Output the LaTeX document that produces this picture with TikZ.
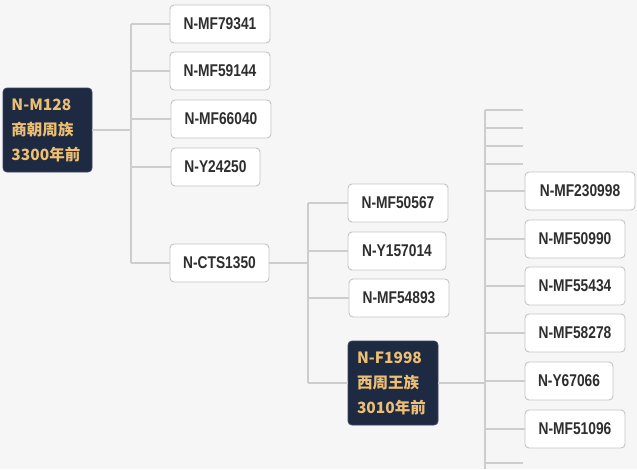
\documentclass[tikz,border=0pt]{standalone}
\usepackage{fontspec}
\newfontfamily\boxfont{Liberation Sans}[FakeStretch=0.81]
\newfontfamily\cjk{Noto Sans CJK SC}
\definecolor{bgc}{HTML}{F6F6F7}
\definecolor{linec}{HTML}{CDCDCD}
\definecolor{boxborder}{HTML}{C4C4C4}
\definecolor{boxtext}{HTML}{2E2E2E}
\definecolor{navy}{HTML}{1E2942}
\definecolor{navyborder}{HTML}{3A4560}
\definecolor{gold}{HTML}{EDBF72}
\tikzset{
  leaf/.style={draw=boxborder, line width=0.9pt, fill=white, rounded corners=4pt,
    minimum height=38pt, inner sep=0pt, text=boxtext,
    font=\boxfont\bfseries\fontsize{17}{19}\selectfont},
  darkbox/.style={draw=navyborder, line width=0.8pt, fill=navy, rounded corners=4pt,
    minimum height=84pt, inner sep=0pt, text=gold, align=left,
    font=\cjk\bfseries\fontsize{15.5}{25}\selectfont},
  conn/.style={draw=linec, line width=1.1pt}
}
\begin{document}
\begin{tikzpicture}[x=1pt,y=-1pt]
\useasboundingbox[fill=bgc] (0,0) rectangle (637,469);

% root
\node[darkbox, minimum width=89pt, text width=72pt] (root) at (47.5,130) {N-M128\\商朝周族\\3300年前};

% first column
\node[leaf, minimum width=100pt] (a1) at (220,24) {N-MF79341};
\node[leaf, minimum width=100pt] (a2) at (220,71) {N-MF59144};
\node[leaf, minimum width=100pt] (a3) at (221,119) {N-MF66040};
\node[leaf, minimum width=89pt] (a4) at (215.5,167) {N-Y24250};
\node[leaf, minimum width=99pt] (a5) at (219.5,263) {N-CTS1350};

% second column
\node[leaf, minimum width=100pt] (b1) at (398,203) {N-MF50567};
\node[leaf, minimum width=98pt] (b2) at (397,251) {N-Y157014};
\node[leaf, minimum width=100pt] (b3) at (399,298) {N-MF54893};
\node[darkbox, minimum width=90pt, text width=72pt] (b4) at (393,383) {N-F1998\\西周王族\\3010年前};

% third column
\node[leaf, minimum width=110pt] (c1) at (580,191) {N-MF230998};
\node[leaf, minimum width=100pt] (c2) at (575,239) {N-MF50990};
\node[leaf, minimum width=100pt] (c3) at (575,286) {N-MF55434};
\node[leaf, minimum width=100pt] (c4) at (575,333) {N-MF58278};
\node[leaf, minimum width=88pt] (c5) at (569,381) {N-Y67066};
\node[leaf, minimum width=100pt] (c6) at (575,429) {N-MF51096};

% junctions and free ends
\coordinate (j1) at (131,130);
\coordinate (j1t) at (131,24);
\coordinate (j1b) at (131,263);
\coordinate (j2) at (308,263);
\coordinate (j2t) at (308,203);
\coordinate (j2b) at (308,383);
\coordinate (j3) at (485,383);
\coordinate (j3t) at (485,110);
\coordinate (j3b) at (485,469);
\coordinate (s1) at (523,110);
\coordinate (s2) at (523,128);
\coordinate (s3) at (523,146);
\coordinate (s4) at (523,164);
\coordinate (s5) at (523,463);

\draw[conn] (root.east) -- (j1);
\draw[conn] (j1t) -- (j1b);
\draw[conn] (j1t) -- (a1.west);
\draw[conn] (j1 |- a2.west) -- (a2.west);
\draw[conn] (j1 |- a3.west) -- (a3.west);
\draw[conn] (j1 |- a4.west) -- (a4.west);
\draw[conn] (j1b) -- (a5.west);

\draw[conn] (a5.east) -- (j2);
\draw[conn] (j2t) -- (j2b);
\draw[conn] (j2t) -- (b1.west);
\draw[conn] (j2 |- b2.west) -- (b2.west);
\draw[conn] (j2 |- b3.west) -- (b3.west);
\draw[conn] (j2b) -- (b4.west);

\draw[conn] (b4.east) -- (j3);
\draw[conn] (j3t) -- (j3b);
\draw[conn] (j3t) -- (s1);
\draw[conn] (j3 |- s2) -- (s2);
\draw[conn] (j3 |- s3) -- (s3);
\draw[conn] (j3 |- s4) -- (s4);
\draw[conn] (j3 |- c1.west) -- (c1.west);
\draw[conn] (j3 |- c2.west) -- (c2.west);
\draw[conn] (j3 |- c3.west) -- (c3.west);
\draw[conn] (j3 |- c4.west) -- (c4.west);
\draw[conn] (j3 |- c5.west) -- (c5.west);
\draw[conn] (j3 |- c6.west) -- (c6.west);
\draw[conn] (j3 |- s5) -- (s5);
\end{tikzpicture}
\end{document}
